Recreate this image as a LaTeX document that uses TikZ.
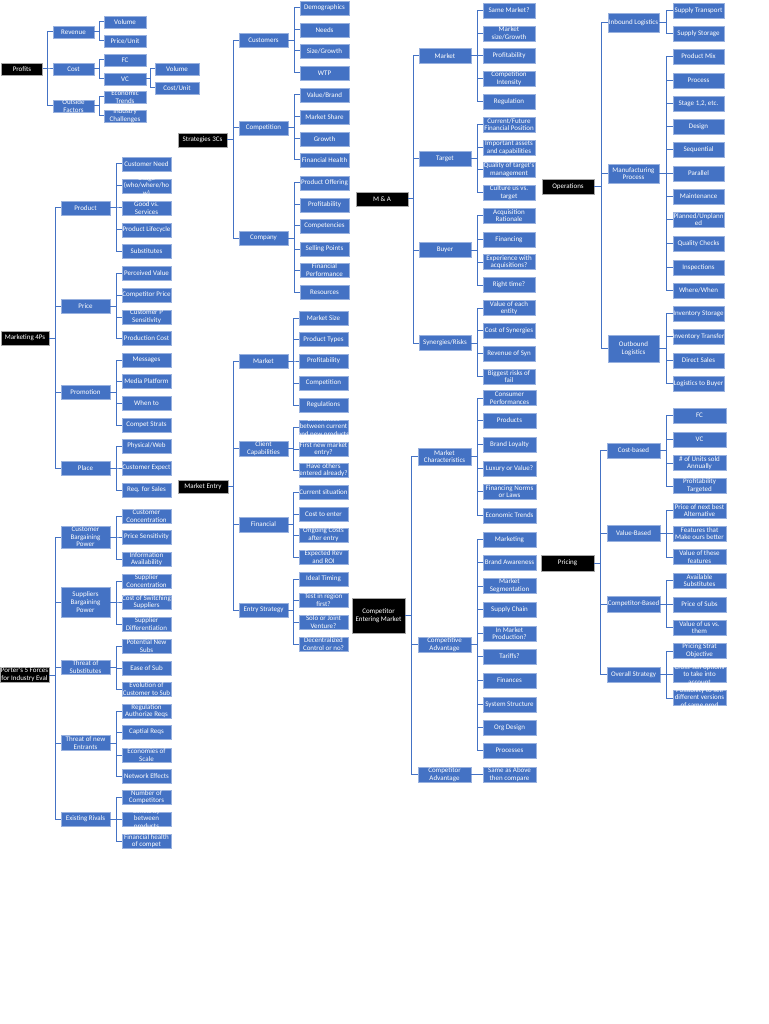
\documentclass[tikz,border=0pt]{standalone}
\usepackage{fontspec}
\newfontfamily\carl{Carlito}
\usetikzlibrary{calc}
\definecolor{boxblue}{HTML}{4472C4}
\tikzset{
  bx/.style={fill=boxblue, draw=boxblue!55!white, line width=0.5pt, inner sep=0pt, minimum width=49, minimum height=14},
  rt/.style={fill=black, draw=gray!70, line width=0.5pt},
  tx/.style={text=white, font=\carl\fontsize{7}{7.7}\selectfont, align=center, inner sep=0pt},
  conn/.style={draw=boxblue, line width=1pt},
  W/.style={minimum width=#1},
  H/.style={minimum height=#1}
}
\newcommand\N[4][]{\node[bx,#1] (#2) at (#3) {}; \node[tx] (#2t) at (#2.center) {#4};}
\newcommand\tree[2]{\foreach \ch in {#2}{\draw[conn] let \p1=(#1.east), \p2=(\ch.west) in (\p1) -- ({(\x1+\x2)/2},\y1) |- (\p2);}}
\begin{document}
\begin{tikzpicture}[x=1pt,y=-1pt]
\fill[white] (0,0) rectangle (768,1024);
\useasboundingbox (0,0) rectangle (768,1024);

% ---------- Profits
\begin{scope}[bx/.append style={minimum height=12}]
\N[rt,W=41]{pr}{22,69}{Profits}
\N[W=41]{prRev}{73.5,32}{Revenue}
\N[W=41]{prCost}{73.5,69}{Cost}
\N[W=41]{prOut}{73.5,106}{Outside\\Factors}
\N[W=42]{prVol}{125,22}{Volume}
\N[W=42]{prPU}{125,41}{Price/Unit}
\N[W=42]{prFC}{125,60}{FC}
\N[W=42]{prVC}{125,79}{VC}
\N[W=42]{prEco}{125,97}{Economic\\Trends}
\N[W=42]{prInd}{125,116}{Industry\\Challenges}
\N[W=44]{prVol2}{177,69}{Volume}
\N[W=44]{prCU}{177,88}{Cost/Unit}
\end{scope}
\tree{pr}{prRev,prCost,prOut}
\tree{prRev}{prVol,prPU}
\tree{prCost}{prFC,prVC}
\tree{prOut}{prEco,prInd}
\tree{prVC}{prVol2,prCU}

% ---------- Marketing 4Ps
\N[rt,W=48]{mk}{25,338}{Marketing 4Ps}
\N{mkProd}{85.5,208}{Product}
\N{mkPrice}{85.5,306}{Price}
\N{mkProm}{85.5,392}{Promotion}
\N{mkPlace}{85.5,468}{Place}
\N{mkP1}{146.5,164}{Customer Need}
\N{mkP2}{146.5,186}{Usage\\(who/where/ho\\w)}
\N{mkP3}{146.5,208}{Good vs.\\Services}
\N{mkP4}{146.5,230}{Product Lifecycle}
\N{mkP5}{146.5,251}{Substitutes}
\N{mkR1}{146.5,273}{Perceived Value}
\N{mkR2}{146.5,295}{Competitor Price}
\N{mkR3}{146.5,317}{Customer P\\Sensitivity}
\N{mkR4}{146.5,338}{Production Cost}
\N{mkM1}{146.5,360}{Messages}
\N{mkM2}{146.5,381}{Media Platform}
\N{mkM3}{146.5,403}{When to}
\N{mkM4}{146.5,425}{Compet Strats}
\N{mkL1}{146.5,446}{Physical/Web}
\N{mkL2}{146.5,468}{Customer Expect}
\N{mkL3}{146.5,490}{Req. for Sales}
\tree{mk}{mkProd,mkPrice,mkProm,mkPlace}
\tree{mkProd}{mkP1,mkP2,mkP3,mkP4,mkP5}
\tree{mkPrice}{mkR1,mkR2,mkR3,mkR4}
\tree{mkProm}{mkM1,mkM2,mkM3,mkM4}
\tree{mkPlace}{mkL1,mkL2,mkL3}

% ---------- Porter's 5 Forces
\N[rt,H=15]{po}{24.5,675}{Porter's 5 Forces\\for Industry Eval}
\N[H=22]{poCust}{85.5,537}{Customer\\Bargaining\\Power}
\N[H=30]{poSupp}{85.5,602}{Suppliers\\Bargaining\\Power}
\N{poSubs}{85.5,667}{Threat of\\Substitutes}
\N[H=15]{poNew}{85.5,743}{Threat of new\\Entrants}
\N{poRiv}{85.5,819}{Existing Rivals}
\N{poC1}{146.5,516}{Customer\\Concentration}
\N{poC2}{146.5,537}{Price Sensitivity}
\N{poC3}{146.5,559}{Information\\Availability}
\N{poS1}{146.5,581}{Supplier\\Concentration}
\N{poS2}{146.5,602}{Cost of Switching\\Suppliers}
\N{poS3}{146.5,624}{Supplier\\Differentiation}
\N{poT1}{146.5,646}{Potential New\\Subs}
\N{poT2}{146.5,668}{Ease of Sub}
\N{poT3}{146.5,689}{Evolution of\\Customer to Sub}
\N{poN1}{146.5,711}{Regulation\\Authorize Reqs}
\N{poN2}{146.5,732}{Captial Reqs}
\N{poN3}{146.5,755}{Economies of\\Scale}
\N{poN4}{146.5,776}{Network Effects}
\N{poE1}{146.5,797}{Number of\\Competitors}
\N{poE2}{146.5,819}{Similarity\\between\\products}
\N{poE3}{146.5,841}{Financial health\\of compet}
\tree{po}{poCust,poSupp,poSubs,poNew,poRiv}
\tree{poCust}{poC1,poC2,poC3}
\tree{poSupp}{poS1,poS2,poS3}
\tree{poSubs}{poT1,poT2,poT3}
\tree{poNew}{poN1,poN2,poN3,poN4}
\tree{poRiv}{poE1,poE2,poE3}

% ---------- Strategies 3Cs
\N[rt]{sc}{202.5,140}{Strategies 3Cs}
\N{scCu}{263.5,40.5}{Customers}
\N{scCo}{263.5,128}{Competition}
\N{scCm}{263.5,238}{Company}
\N{scA1}{324.5,8}{Demographics}
\N{scA2}{324.5,30}{Needs}
\N{scA3}{324.5,51}{Size/Growth}
\N{scA4}{324.5,73}{WTP}
\N{scB1}{324.5,95}{Value/Brand}
\N{scB2}{324.5,117}{Market Share}
\N{scB3}{324.5,139}{Growth}
\N{scB4}{324.5,160}{Financial Health}
\N{scC1}{324.5,183}{Product Offering}
\N{scC2}{324.5,205}{Profitability}
\N{scC3}{324.5,226}{Competencies}
\N{scC4}{324.5,249}{Selling Points}
\N{scC5}{324.5,270}{Financial\\Performance}
\N{scC6}{324.5,292}{Resources}
\tree{sc}{scCu,scCo,scCm}
\tree{scCu}{scA1,scA2,scA3,scA4}
\tree{scCo}{scB1,scB2,scB3,scB4}
\tree{scCm}{scC1,scC2,scC3,scC4,scC5,scC6}

% ---------- Market Entry
\N[rt,W=50,H=13]{me}{203,486.5}{Market Entry}
\N{meMk}{263.5,361}{Market}
\N[H=15]{meCl}{263.5,448.5}{Client\\Capabilities}
\N[H=15]{meFi}{263.5,524.5}{Financial}
\N{meEn}{263.5,610}{Entry Strategy}
\N{meA1}{323.5,318}{Market Size}
\N{meA2}{323.5,339.5}{Product Types}
\N{meA3}{323.5,361}{Profitability}
\N{meA4}{323.5,383}{Competition}
\N{meA5}{323.5,405}{Regulations}
\N{meB1}{323.5,427}{Differences\\between current\\and new products}
\N{meB2}{323.5,449}{First new market\\entry?}
\N{meB3}{323.5,470}{Have others\\entered already?}
\N{meC1}{323.5,492}{Current situation}
\N{meC2}{323.5,514}{Cost to enter}
\N{meC3}{323.5,535}{Ongoing Costs\\after entry}
\N{meC4}{323.5,557}{Expected Rev\\and ROI}
\N{meD1}{323.5,579}{Ideal Timing}
\N{meD2}{323.5,600}{Test in region\\first?}
\N{meD3}{323.5,622}{Solo or Joint\\Venture?}
\N{meD4}{323.5,644}{Decentralized\\Control or no?}
\tree{me}{meMk,meCl,meFi,meEn}
\tree{meMk}{meA1,meA2,meA3,meA4,meA5}
\tree{meCl}{meB1,meB2,meB3}
\tree{meFi}{meC1,meC2,meC3,meC4}
\tree{meEn}{meD1,meD2,meD3,meD4}

% ---------- M & A
\begin{scope}[bx/.append style={minimum width=52, minimum height=15}]
\N[rt,H=14]{ma}{382,199}{M \& A}
\N{maMk}{445,56}{Market}
\N{maTg}{445,159}{Target}
\N{maBy}{445,250}{Buyer}
\N{maSy}{445,343}{Synergies/Risks}
\N{maA1}{509,10.5}{Same Market?}
\N{maA2}{509,33.5}{Market\\size/Growth}
\N{maA3}{509,55.5}{Profitability}
\N{maA4}{509,78.5}{Competition\\Intensity}
\N{maA5}{509,101.5}{Regulation}
\N{maB1}{509,124.5}{Current/Future\\Financial Position}
\N{maB2}{509,147.5}{Important assets\\and capabilities}
\N{maB3}{509,170}{Quality of target's\\management}
\N{maB4}{509,192.5}{Culture us vs.\\target}
\N{maC1}{509,215.5}{Acquisition\\Rationale}
\N{maC2}{509,239.5}{Financing}
\N{maC3}{509,262}{Experience with\\acquisitions?}
\N{maC4}{509,285}{Right time?}
\N{maD1}{509,308}{Value of each\\entity}
\N{maD2}{509,330.5}{Cost of Synergies}
\N{maD3}{509,353.5}{Revenue of Syn}
\N{maD4}{509,376.5}{Biggest risks of\\fail}
\end{scope}
\tree{ma}{maMk,maTg,maBy,maSy}
\tree{maMk}{maA1,maA2,maA3,maA4,maA5}
\tree{maTg}{maB1,maB2,maB3,maB4}
\tree{maBy}{maC1,maC2,maC3,maC4}
\tree{maSy}{maD1,maD2,maD3,maD4}

% ---------- Competitor Entering Market
\begin{scope}[bx/.append style={minimum width=53, minimum height=15}]
\N[rt,H=35]{ce}{378.5,615.5}{Competitor\\Entering Market}
\N[H=17]{ceMc}{444.5,456.5}{Market\\Characteristics}
\N{ceCa}{444.5,644.5}{Competitive\\Advantage}
\N{ceCo}{444.5,774.5}{Competitor\\Advantage}
\N{ceA1}{509.5,398}{Consumer\\Performances}
\N{ceA2}{509.5,420.5}{Products}
\N{ceA3}{509.5,444.5}{Brand Loyalty}
\N{ceA4}{509.5,468.5}{Luxury or Value?}
\N{ceA5}{509.5,491.5}{Financing Norms\\or Laws}
\N{ceA6}{509.5,515.5}{Economic Trends}
\N{ceB1}{509.5,539.5}{Marketing}
\N{ceB2}{509.5,562.5}{Brand Awareness}
\N{ceB3}{509.5,586}{Market\\Segmentation}
\N{ceB4}{509.5,609.5}{Supply Chain}
\N{ceB5}{509.5,633.5}{In Market\\Production?}
\N{ceB6}{509.5,656.5}{Tariffs?}
\N{ceB7}{509.5,680.5}{Finances}
\N{ceB8}{509.5,704.5}{System Structure}
\N{ceB9}{509.5,727.5}{Org Design}
\N{ceB10}{509.5,750.5}{Processes}
\N{ceC1}{509.5,774.5}{Same as Above\\then compare}
\end{scope}
\tree{ce}{ceMc,ceCa,ceCo}
\tree{ceMc}{ceA1,ceA2,ceA3,ceA4,ceA5,ceA6}
\tree{ceCa}{ceB1,ceB2,ceB3,ceB4,ceB5,ceB6,ceB7,ceB8,ceB9,ceB10}
\tree{ceCo}{ceC1}

% ---------- Operations
\begin{scope}[bx/.append style={minimum width=51, minimum height=15}]
\N[rt,W=52]{op}{568,186.5}{Operations}
\N[H=19]{opIn}{633.5,22.5}{Inbound Logistics}
\N[H=19]{opMf}{633.5,173.5}{Manufacturing\\Process}
\N[H=27]{opOut}{633.5,348.5}{Outbound\\Logistics}
\N{opA1}{698.5,10.5}{Supply Transport}
\N{opA2}{698.5,33.5}{Supply Storage}
\N{opB1}{698.5,56.5}{Product Mix}
\N{opB2}{698.5,80.5}{Process}
\N{opB3}{698.5,103.5}{Stage 1,2, etc.}
\N{opB4}{698.5,126.5}{Design}
\N{opB5}{698.5,149.5}{Sequential}
\N{opB6}{698.5,173.5}{Parallel}
\N{opB7}{698.5,196.5}{Maintenance}
\N{opB8}{698.5,219.5}{Planned/Unplann\\ed}
\N{opB9}{698.5,243.5}{Quality Checks}
\N{opB10}{698.5,267.5}{Inspections}
\N{opB11}{698.5,290.5}{Where/When}
\N{opC1}{698.5,313.5}{Inventory Storage}
\N{opC2}{698.5,336.5}{Inventory Transfer}
\N{opC3}{698.5,360.5}{Direct Sales}
\N{opC4}{698.5,383.5}{Logistics to Buyer}
\end{scope}
\tree{op}{opIn,opMf,opOut}
\tree{opIn}{opA1,opA2}
\tree{opMf}{opB1,opB2,opB3,opB4,opB5,opB6,opB7,opB8,opB9,opB10,opB11}
\tree{opOut}{opC1,opC2,opC3,opC4}

% ---------- Pricing
\begin{scope}[bx/.append style={minimum width=53, minimum height=15}]
\N[rt,H=16]{pc}{567.5,563}{Pricing}
\N{pcCb}{633.5,450.5}{Cost-based}
\N[H=16]{pcVb}{633.5,533}{Value-Based}
\N[H=16]{pcCp}{633.5,604}{Competitor-Based}
\N{pcOs}{633.5,674.5}{Overall Strategy}
\N{pcA1}{699.5,415.5}{FC}
\N{pcA2}{699.5,439.5}{VC}
\N{pcA3}{699.5,463}{\# of Units sold\\Annually}
\N{pcA4}{699.5,486}{Profitability\\Targeted}
\N{pcB1}{699.5,510.5}{Price of next best\\Alternative}
\N{pcB2}{699.5,533.5}{Features that\\Make ours better}
\N{pcB3}{699.5,557}{Value of these\\features}
\N{pcC1}{699.5,580.5}{Available\\Substitutes}
\N{pcC2}{699.5,604.5}{Price of Subs}
\N{pcC3}{699.5,627.5}{Value of us vs.\\them}
\N{pcD1}{699.5,651}{Pricing Strat\\Objective}
\N{pcD2}{699.5,674.5}{Cross-sell options\\to take into\\account}
\N{pcD3}{699.5,698}{Possibility to sell\\different versions\\of same prod}
\end{scope}
\tree{pc}{pcCb,pcVb,pcCp,pcOs}
\tree{pcCb}{pcA1,pcA2,pcA3,pcA4}
\tree{pcVb}{pcB1,pcB2,pcB3}
\tree{pcCp}{pcC1,pcC2,pcC3}
\tree{pcOs}{pcD1,pcD2,pcD3}
\end{tikzpicture}
\end{document}
